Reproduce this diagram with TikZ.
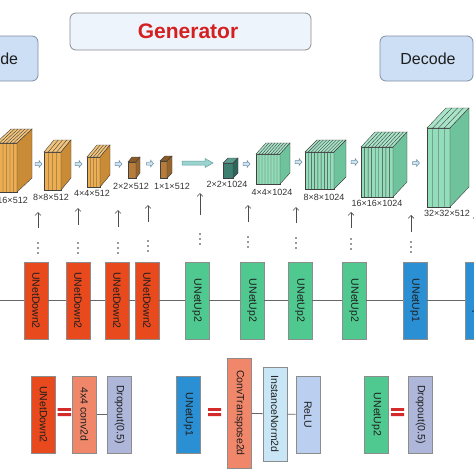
\documentclass[tikz,border=0pt]{standalone}
\usepackage{fontspec}
\setmainfont{Liberation Sans}
\usetikzlibrary{arrows.meta}
\definecolor{encF}{HTML}{EDAE52}
\definecolor{encT}{HTML}{F2C47A}
\definecolor{encS}{HTML}{C98B35}
\definecolor{brnF}{HTML}{B77B3A}
\definecolor{brnT}{HTML}{8A5A28}
\definecolor{brnS}{HTML}{96652E}
\definecolor{tealF}{HTML}{93DDBA}
\definecolor{tealT}{HTML}{A8E5C8}
\definecolor{tealS}{HTML}{6FC39C}
\definecolor{dtF}{HTML}{3E7F72}
\definecolor{dtT}{HTML}{5A9C8E}
\definecolor{dtS}{HTML}{2E6459}
\definecolor{harF}{HTML}{CFE6F2}
\definecolor{harE}{HTML}{6E8FA3}
\definecolor{longF}{HTML}{9AD3CF}
\definecolor{longE}{HTML}{5E9F9B}
\definecolor{downC}{HTML}{E8491D}
\definecolor{upTwo}{HTML}{4FC98F}
\definecolor{upOne}{HTML}{2B8FD3}
\definecolor{salmon}{HTML}{F0876A}
\definecolor{lav}{HTML}{AEB7DA}
\definecolor{inorm}{HTML}{C9E6F6}
\definecolor{reluC}{HTML}{BBCFF1}
\definecolor{eqred}{HTML}{D42A2A}
\definecolor{genred}{HTML}{D42020}
\definecolor{genF}{HTML}{EEF4FB}
\definecolor{decF}{HTML}{CDDFF5}
\definecolor{boxE}{HTML}{7F8FA6}
\definecolor{blkE}{HTML}{8C8C8C}
\definecolor{txt}{HTML}{1E1E1E}
\tikzset{
  cubeedge/.style={draw={black!75},line width=0.4pt},
  blk/.style={draw=blkE,line width=0.8pt,rotate=-90,minimum width=#1,minimum height=24pt,
    inner sep=0pt,text=txt,font=\fontsize{10.5}{12}\selectfont},
  blk/.default=77pt,
  dimlabel/.style={inner sep=0pt,text={black!80},font=\fontsize{9}{10}\selectfont},
  uparrow/.style={draw={black!70},line width=0.6pt,-{Straight Barb[length=3pt,width=6pt]}},
  rowline/.style={draw={black!60},line width=0.8pt},
  titlebox/.style={rounded corners=6pt,line width=0.8pt},
}
\newcommand{\mkcube}[8]{%
  \filldraw[fill=#8F,cubeedge] (#1,#2) rectangle (#3,#4);
  \filldraw[fill=#8T,cubeedge] (#1,#2) -- (#1+#5,#2-#6) -- (#3+#5,#2-#6) -- (#3,#2) -- cycle;
  \filldraw[fill=#8S,cubeedge] (#3,#2) -- (#3+#5,#2-#6) -- (#3+#5,#4-#6) -- (#3,#4) -- cycle;
  \ifnum#7>1
    \pgfmathtruncatemacro\nm{#7-1}%
    \foreach \k in {1,...,\nm}{%
      \pgfmathsetmacro\sx{#1+(#3-#1)*\k/#7}%
      \draw[cubeedge] (\sx,#2) -- (\sx,#4) (\sx,#2) -- (\sx+#5,#2-#6);
    }%
  \fi
}
\newcommand{\harrow}[2]{%
  \filldraw[fill=harF,draw=harE,line width=0.5pt] (#1-3.5,#2-1.5) -- (#1+0.5,#2-1.5) -- (#1+0.5,#2-3.5)
    -- (#1+3.5,#2) -- (#1+0.5,#2+3.5) -- (#1+0.5,#2+1.5) -- (#1-3.5,#2+1.5) -- cycle;
}
\newcommand{\vdotsat}[2]{%
  \fill[black!80] (#1,#2) circle (0.8) (#1,#2+5) circle (0.8) (#1,#2+10) circle (0.8);
}
\newcommand{\eqsign}[2]{%
  \fill[eqred] (#1,408) rectangle (#2,410.8) (#1,413.2) rectangle (#2,416);
}
\begin{document}
\begin{tikzpicture}[x=1pt,y=-1pt]
\useasboundingbox (0,0) rectangle (474,474);
\fill[white] (0,0) rectangle (474,474);

% title boxes
\draw[titlebox,fill=decF,draw=boxE] (-60,36) rectangle (38,81);
\node[inner sep=0pt,font=\fontsize{16}{18}\selectfont,text=txt] (enc) at (-9,59) {Encode};
\draw[titlebox,fill=genF,draw={black!45}] (70,13) rectangle (311,50);
\node[inner sep=0pt,font=\fontsize{21}{24}\selectfont\bfseries,text=genred] (gen) at (188,31.5) {Generator};
\draw[titlebox,fill=decF,draw=boxE] (380,36) rectangle (473,81);
\node[inner sep=0pt,font=\fontsize{16}{18}\selectfont,text=txt] (dec) at (428,59) {Decode};

% cubes
\mkcube{-4}{143}{17}{192}{15}{14}{6}{enc}
\mkcube{44}{152}{61}{190}{10}{12}{4}{enc}
\mkcube{87}{157}{100}{187}{10}{12}{4}{enc}
\mkcube{128}{162}{136}{178}{4}{5}{1}{brn}
\mkcube{160}{161}{167}{178}{5}{5}{1}{brn}
\mkcube{223}{163}{233}{178}{5}{5}{1}{dt}
\mkcube{256}{154}{280}{184}{10}{11}{8}{teal}
\mkcube{305}{152}{334}{189}{12}{12}{9}{teal}
\mkcube{361}{147}{393}{197}{14}{15}{9}{teal}
\mkcube{427}{128}{450}{207}{19}{20}{4}{teal}

% dimension labels
\node[dimlabel] (l1) at (5,200) {16×16×512};
\node[dimlabel] (l2) at (51,197) {8×8×512};
\node[dimlabel] (l3) at (92,193) {4×4×512};
\node[dimlabel] (l4) at (131,186.5) {2×2×512};
\node[dimlabel] (l5) at (172,186.5) {1×1×512};
\node[dimlabel] (l6) at (227,184) {2×2×1024};
\node[dimlabel] (l7) at (272,192) {4×4×1024};
\node[dimlabel] (l8) at (324,197) {8×8×1024};
\node[dimlabel] (l9) at (377,203) {16×16×1024};
\node[dimlabel] (l10) at (447,213) {32×32×512};

% small hollow arrows
\harrow{38.5}{164}
\harrow{78.5}{164}
\harrow{118.5}{164}
\harrow{150}{163.5}
\harrow{246.5}{164}
\harrow{298.5}{162}
\harrow{354.5}{162}
\harrow{416}{163}
% long arrow
\filldraw[fill=longF,draw=longE,line width=0.5pt] (182,161) -- (205,161) -- (205,158.5) -- (213,163)
  -- (205,167.5) -- (205,165) -- (182,165) -- cycle;

% up arrows and dots
\foreach \ax/\ya/\yb/\yd in {38/228/212/243, 78/225/208/243, 118/227/210/243, 148/222/205/241,
    200/215/193/234, 248/222/205/237, 296/223/207/238, 351/228/212/239, 411/232/215/242, 476/232/215/242}{
  \coordinate (ta\ax) at (\ax,\ya);
  \coordinate (tb\ax) at (\ax,\yb);
  \draw[uparrow] (ta\ax) -- (tb\ax);
  \vdotsat{\ax}{\yd}
}

% main row of blocks
\coordinate (rowL) at (-5,300.5);
\coordinate (rowR) at (480,300.5);
\node[blk,fill=downC] (d1) at (36,300.5) {UNetDown2};
\node[blk,fill=downC] (d2) at (78,300.5) {UNetDown2};
\node[blk,fill=downC] (d3) at (117,300.5) {UNetDown2};
\node[blk,fill=downC] (d4) at (147,300.5) {UNetDown2};
\node[blk,fill=upTwo] (u1) at (197,300.5) {UNetUp2};
\node[blk,fill=upTwo] (u2) at (252,300.5) {UNetUp2};
\node[blk,fill=upTwo] (u3) at (300,300.5) {UNetUp2};
\node[blk,fill=upTwo] (u4) at (354,300.5) {UNetUp2};
\node[blk,fill=upOne] (u5) at (415,300.5) {UNetUp1};
\node[blk,fill=upOne] (u6) at (477,300.5) {UNetUp1};
\draw[rowline] (rowL) -- (d1);
\draw[rowline] (d1) -- (d2);
\draw[rowline] (d2) -- (d3);
\draw[rowline] (d3) -- (d4);
\draw[rowline] (d4) -- (u1);
\draw[rowline] (u1) -- (u2);
\draw[rowline] (u2) -- (u3);
\draw[rowline] (u3) -- (u4);
\draw[rowline] (u4) -- (u5);
\draw[rowline] (u5) -- (u6);

% legend row
\node[blk,fill=downC] (kd) at (43.5,414.5) {UNetDown2};
\eqsign{57.5}{71}
\node[blk,fill=salmon] (kconv) at (84.5,414.5) {4x4 conv2d};
\node[blk,fill=lav] (kdrop) at (119.5,414.5) {Dropout(0.5)};
\draw[rowline] (kconv) -- (kdrop);

\node[blk,fill=upOne] (ku1) at (188.5,414.5) {UNetUp1};
\eqsign{208}{221}
\node[blk=110pt,fill=salmon] (kct) at (239.5,413) {ConvTranspose2d};
\node[blk=94pt,fill=inorm] (kin) at (275,414) {InstanceNorm2d};
\node[blk,fill=reluC] (krelu) at (308,414.5) {ReLU};
\draw[rowline] (kct) -- (kin);
\draw[rowline] (kin) -- (krelu);

\node[blk,fill=upTwo] (ku2) at (376.5,414.5) {UNetUp2};
\eqsign{391}{404}
\node[blk,fill=lav] (kdrop2) at (420.5,414.5) {Dropout(0.5)};
\end{tikzpicture}
\end{document}
